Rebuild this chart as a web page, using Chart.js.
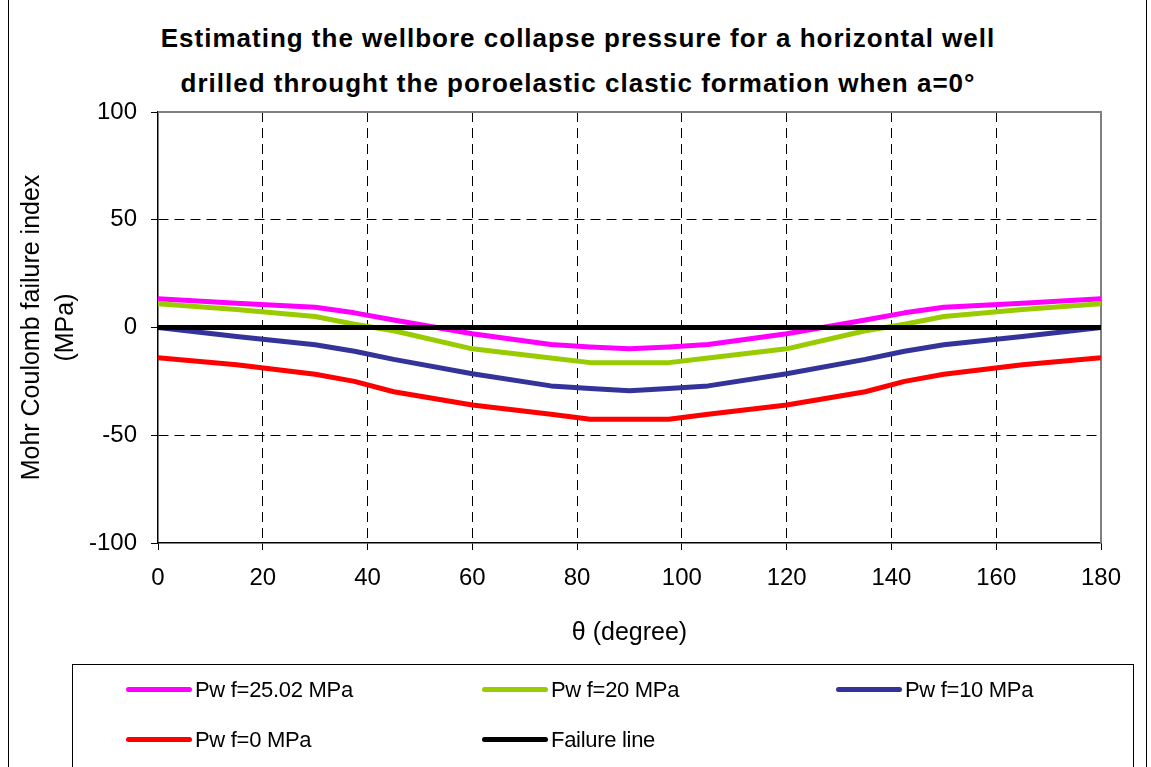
<!DOCTYPE html>
<html>
<head>
<meta charset="utf-8">
<script src="https://cdn.jsdelivr.net/npm/chart.js@4"></script>
<style>
    body { margin: 0; background: #fff; font-family: "Liberation Sans", Arial, sans-serif; }
    #wrap { position: relative; width: 1151px; height: 767px; overflow: hidden; }
    #frame { position: absolute; left: 8px; top: -5px; width: 1139px; height: 800px; border: 1.5px solid #000; box-sizing: border-box; }
    #chart { position: absolute; left: 0; top: 0; }
    .title { position: absolute; left: 0; width: 1156px; text-align: center; font-weight: bold; font-size: 26px; line-height: 26px; letter-spacing: 1px; color: #000; }
    #legend { position: absolute; left: 72px; top: 664px; width: 1062px; height: 140px; border: 1.5px solid #000; box-sizing: border-box; }
    .lg-line { position: absolute; height: 5px; width: 66px; border-radius: 3px; }
    .lg-text { position: absolute; font-size: 22px; line-height: 24px; letter-spacing: -0.3px; color: #000; white-space: nowrap; }
</style>
</head>
<body>
<div id="wrap">
    <div id="frame"></div>
    <div class="title" style="top:25px">Estimating the wellbore collapse pressure for a horizontal well</div>
    <div class="title" style="top:70px">drilled throught the poroelastic clastic formation when a=0°</div>
    <canvas id="chart" width="1151" height="767"></canvas>
    <div id="legend"></div>
</div>
<script>
// Angles (theta, degree)
const thetas = [0, 15, 30, 37.5, 45, 60, 75, 82.5, 90, 97.5, 105, 120, 135, 142.5, 150, 165, 180];

// Mohr Coulomb failure index (MPa) for each wellbore pressure
const pwf2502 = [13.3, 11.2, 9.4, 6.8, 3.5, -2.9, -7.9, -9.0, -9.9, -9.0, -7.9, -2.9, 3.5, 6.8, 9.4, 11.2, 13.3];
const pwf20 = [11.0, 8.3, 5.1, 1.5, -1.5, -9.9, -14.2, -16.3, -16.3, -16.3, -14.2, -9.9, -1.5, 1.5, 5.1, 8.3, 11.0];
const pwf10 = [0, -4.2, -8.0, -11.0, -14.8, -21.5, -27.1, -28.3, -29.3, -28.3, -27.1, -21.5, -14.8, -11.0, -8.0, -4.2, 0];
const pwf0 = [-14.0, -17.3, -21.7, -25.0, -29.8, -36.0, -40.3, -42.6, -42.6, -42.6, -40.3, -36.0, -29.8, -25.0, -21.7, -17.3, -14.0];
const failureLine = [0, 0, 0, 0, 0, 0, 0, 0, 0, 0, 0, 0, 0, 0, 0, 0, 0];

const seriesNames = ["Pw f=25.02 MPa", "Pw f=20 MPa", "Pw f=10 MPa", "Pw f=0 MPa", "Failure line"];
const seriesColors = ["#FF00FF", "#99CC00", "#333399", "#FF0000", "#000000"];
const seriesValues = [pwf2502, pwf20, pwf10, pwf0, failureLine];

// Axis ticks
const xMin = 0, xMax = 180, xStep = 20;
const yMin = -100, yMax = 100, yStep = 50;

const FONT = "'Liberation Sans', Arial, sans-serif";

function toPoints(values) {
    return values.map((v, i) => ({ x: thetas[i], y: v }));
}

const datasets = seriesValues.map((vals, i) => ({
    label: seriesNames[i],
    data: toPoints(vals),
    borderColor: seriesColors[i],
    backgroundColor: seriesColors[i],
    borderWidth: 5,
    pointRadius: 0,
    tension: 0,
    borderJoinStyle: "round",
    borderCapStyle: "round",
    order: i === 4 ? 0 : 1,
}));

// cadre gris en haut et à droite de la zone de tracé
const plotFrame = {
    id: "plotFrame",
    beforeDatasetsDraw(chart) {
        const { ctx, chartArea: a } = chart;
        ctx.save();
        ctx.strokeStyle = "#808080";
        ctx.lineWidth = 2;
        ctx.beginPath();
        ctx.moveTo(a.left, a.top);
        ctx.lineTo(a.right, a.top);
        ctx.lineTo(a.right, a.bottom);
        ctx.stroke();
        ctx.restore();
    },
};

new Chart(document.getElementById("chart"), {
    type: "line",
    data: { datasets },
    options: {
        responsive: false,
        animation: false,
        devicePixelRatio: 1,
        layout: { padding: { left: 8, right: 50, top: 112, bottom: 119 } },
        plugins: { legend: { display: false }, tooltip: { enabled: false } },
        scales: {
            x: {
                type: "linear",
                min: xMin,
                max: xMax,
                afterFit: (scale) => { scale.height = 105; },
                ticks: { stepSize: xStep, color: "#000", padding: 14, font: { family: FONT, size: 24 }, maxRotation: 0 },
                grid: {
                    color: (c) => (c.tick && (c.tick.value === xMin || c.tick.value === xMax) ? "rgba(0,0,0,0)" : "#000"),
                    tickColor: "#000",
                    tickLength: 7,
                    lineWidth: 1,
                },
                border: { display: true, color: "#000", width: 1.5, dash: [10, 6] },
                title: { display: true, text: "θ (degree)", color: "#000", font: { family: FONT, size: 25 }, padding: { top: 0, bottom: 0 } },
            },
            y: {
                min: yMin,
                max: yMax,
                afterFit: (scale) => { scale.width = 150; },
                ticks: { stepSize: yStep, color: "#000", padding: 14, font: { family: FONT, size: 24 } },
                grid: {
                    color: (c) => (c.tick && (c.tick.value === yMin || c.tick.value === yMax) ? "rgba(0,0,0,0)" : "#000"),
                    tickColor: "#000",
                    tickLength: 7,
                    lineWidth: 1,
                },
                border: { display: true, color: "#000", width: 1.5, dash: [10, 6] },
                title: {
                    display: true,
                    text: ["Mohr Coulomb failure index", "(MPa)"],
                    color: "#000",
                    font: { family: FONT, size: 25, lineHeight: "34px" },
                    padding: { top: 7, bottom: 0 },
                },
            },
        },
    },
    plugins: [plotFrame],
});

// Légende en bas, 3 colonnes
const legend = document.getElementById("legend");
const colX = [53, 409, 763];
const rowY = [25, 75];
seriesNames.forEach((name, i) => {
    const x = colX[i % 3];
    const y = rowY[Math.floor(i / 3)];
    const line = document.createElement("div");
    line.className = "lg-line";
    line.style.left = x + "px";
    line.style.top = (y - 3) + "px";
    line.style.background = seriesColors[i];
    const text = document.createElement("div");
    text.className = "lg-text";
    text.style.left = (x + 69) + "px";
    text.style.top = (y - 12) + "px";
    text.textContent = name;
    legend.appendChild(line);
    legend.appendChild(text);
});
</script>
</body>
</html>
